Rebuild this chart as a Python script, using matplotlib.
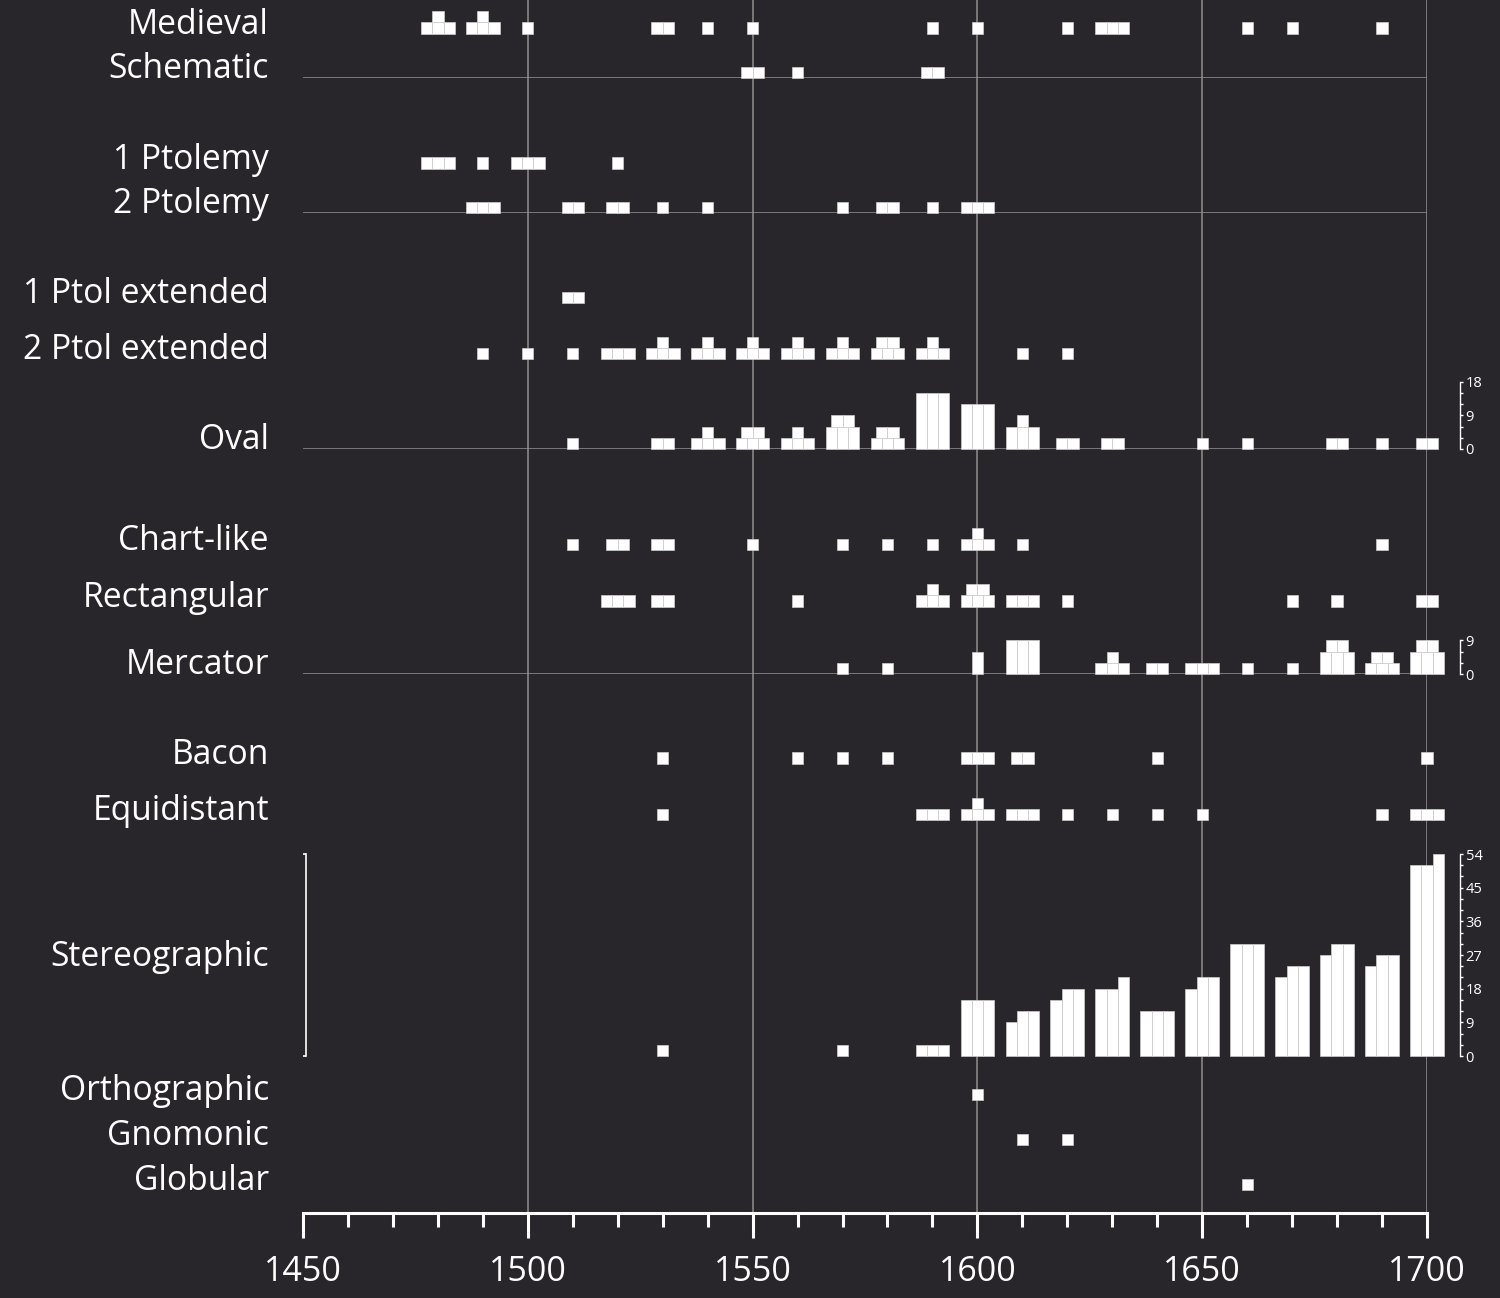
import matplotlib
matplotlib.use("Agg")
import matplotlib.pyplot as plt
from matplotlib.ticker import FixedLocator, NullFormatter

# ---------------- data (maps per decade) ----------------
categories = ["Medieval", "Schematic", "1 Ptolemy", "2 Ptolemy", "1 Ptol extended",
              "2 Ptol extended", "Oval", "Chart-like", "Rectangular", "Mercator",
              "Bacon", "Equidistant", "Stereographic", "Orthographic", "Gnomonic", "Globular"]

medieval_years = [1480, 1490, 1500, 1530, 1540, 1550, 1590, 1600, 1620, 1630, 1660, 1670, 1690]
medieval_counts = [4, 4, 1, 2, 1, 1, 1, 1, 1, 3, 1, 1, 1]
schematic_years = [1550, 1560, 1590]
schematic_counts = [2, 1, 2]
ptolemy1_years = [1480, 1490, 1500, 1520]
ptolemy1_counts = [3, 1, 3, 1]
ptolemy2_years = [1490, 1510, 1520, 1530, 1540, 1570, 1580, 1590, 1600]
ptolemy2_counts = [3, 2, 2, 1, 1, 1, 2, 1, 3]
ptolext1_years = [1510]
ptolext1_counts = [2]
ptolext2_years = [1490, 1500, 1510, 1520, 1530, 1540, 1550, 1560, 1570, 1580, 1590, 1610, 1620]
ptolext2_counts = [1, 1, 1, 3, 4, 4, 4, 4, 4, 5, 4, 1, 1]
oval_years = [1510, 1530, 1540, 1550, 1560, 1570, 1580, 1590, 1600, 1610, 1620, 1630,
              1650, 1660, 1680, 1690, 1700]
oval_counts = [1, 2, 4, 5, 4, 8, 5, 15, 12, 7, 2, 2, 1, 1, 2, 1, 2]
chartlike_years = [1510, 1520, 1530, 1550, 1570, 1580, 1590, 1600, 1610, 1690]
chartlike_counts = [1, 2, 2, 1, 1, 1, 1, 4, 1, 1]
rectangular_years = [1520, 1530, 1560, 1590, 1600, 1610, 1620, 1670, 1680, 1700]
rectangular_counts = [3, 2, 1, 4, 5, 3, 1, 1, 1, 2]
mercator_years = [1570, 1580, 1600, 1610, 1630, 1640, 1650, 1660, 1670, 1680, 1690, 1700]
mercator_counts = [1, 1, 2, 9, 4, 2, 3, 1, 1, 8, 5, 8]
bacon_years = [1530, 1560, 1570, 1580, 1600, 1610, 1640, 1700]
bacon_counts = [1, 1, 1, 1, 3, 2, 1, 1]
equidistant_years = [1530, 1590, 1600, 1610, 1620, 1630, 1640, 1650, 1690, 1700]
equidistant_counts = [1, 3, 4, 3, 1, 1, 1, 1, 1, 3]
stereo_years = [1530, 1570, 1590, 1600, 1610, 1620, 1630, 1640, 1650, 1660, 1670, 1680, 1690, 1700]
stereo_counts = [1, 1, 3, 15, 11, 17, 19, 12, 20, 30, 23, 29, 26, 52]
ortho_years = [1600]
ortho_counts = [1]
gnomonic_years = [1610, 1620]
gnomonic_counts = [1, 1]
globular_years = [1660]
globular_counts = [1]

series = [
    (medieval_years, medieval_counts), (schematic_years, schematic_counts),
    (ptolemy1_years, ptolemy1_counts), (ptolemy2_years, ptolemy2_counts),
    (ptolext1_years, ptolext1_counts), (ptolext2_years, ptolext2_counts),
    (oval_years, oval_counts), (chartlike_years, chartlike_counts),
    (rectangular_years, rectangular_counts), (mercator_years, mercator_counts),
    (bacon_years, bacon_counts), (equidistant_years, equidistant_counts),
    (stereo_years, stereo_counts), (ortho_years, ortho_counts),
    (gnomonic_years, gnomonic_counts), (globular_years, globular_counts),
]

x_ticks_major = [1450, 1500, 1550, 1600, 1650, 1700]

# ---------------- layout / style ----------------
W, H = 1500, 1298
BG = "#28252b"
GRID = "#8f8f8f"
FONT = "Open Sans"
X0, X1 = 303, 1427            # pixel span of 1450..1700
PXU = 3.74                    # pixels per count unit (one cell = 3 counts)
CW = 2.5                      # cell width in years
baselines = [33.7, 78, 168.7, 213, 303.3, 359.3, 449, 550, 606.7, 674,
             763.7, 820, 1056, 1100, 1145, 1190]
label_y = baselines[:]
label_y[12] = 966
lined_rows = {"Schematic", "2 Ptolemy", "Oval", "Mercator"}
scales = {"Oval": 18, "Mercator": 9, "Stereographic": 54}

fig = plt.figure(figsize=(W / 100, H / 100), dpi=100, facecolor=BG)


def px_axes(left, top, right, bottom):
    return fig.add_axes([left / W, 1 - bottom / H, (right - left) / W, (bottom - top) / H])


# background axes with time axis + vertical grid
AXIS_Y = 1213
bg = px_axes(X0, 0, X1, AXIS_Y)
bg.set_facecolor("none")
bg.set_xlim(1450, 1700)
bg.set_ylim(0, 1)
for s in ["top", "right", "left"]:
    bg.spines[s].set_visible(False)
bg.spines["bottom"].set_color("white")
bg.spines["bottom"].set_linewidth(2.2)
bg.set_yticks([])
bg.xaxis.set_major_locator(FixedLocator(x_ticks_major))
bg.xaxis.set_minor_locator(FixedLocator(list(range(1450, 1701, 10))))
bg.tick_params(axis="x", which="both", direction="out", colors="white", width=2.2)
bg.tick_params(axis="x", which="major", length=18, pad=12, labelsize=24.5)
bg.tick_params(axis="x", which="minor", length=10)
for lab in bg.get_xticklabels():
    lab.set_family(FONT)
for xv in x_ticks_major[1:]:
    bg.axvline(xv, color=GRID, lw=1.1, zorder=0)


def layout(n, mode):
    """return list of (offset_in_cells, bottom_cells, height_cells)"""
    if mode == "stack":
        return [(0, 0, n)]
    full, r = divmod(n, 3)
    out = []
    if mode == "cols" and n >= 3:
        extra = [0, 1 if r >= 2 else 0, 1 if r >= 1 else 0]
        for off, e in zip([-1, 0, 1], extra):
            out.append((off, 0, full + e))
        return out
    if full:
        for off in [-1, 0, 1]:
            out.append((off, 0, full))
    if r == 1:
        out.append((0, full, 1))
    elif r == 2:
        out.append((-0.5, full, 1))
        out.append((0.5, full, 1))
    return out


overrides = {("Mercator", 1600): "stack"}

for name, (years, counts), base, ly in zip(categories, series, baselines, label_y):
    ymax = scales.get(name, 18)
    ax = px_axes(X0, base - ymax * PXU, X1, base)
    ax.set_facecolor("none")
    ax.set_xlim(1450, 1700)
    ax.set_ylim(0, ymax)
    ax.set_xticks([])
    for s in ax.spines.values():
        s.set_visible(False)
    ax.set_yticks([])
    if name in lined_rows:
        ax.axhline(0, color=GRID, lw=1.1, zorder=1, xmin=0, xmax=1)
    mode_default = "cols" if name == "Stereographic" else "rows"
    xs, hs, bs = [], [], []
    for yr, n in zip(years, counts):
        mode = overrides.get((name, yr), mode_default)
        for off, b, h in layout(n, mode):
            xs.append(yr + off * CW)
            bs.append(b * 3)
            hs.append(h * 3)
    ax.bar(xs, hs, bottom=bs, width=CW, color="white", edgecolor="#cdcdcd",
           linewidth=0.5, zorder=3, clip_on=False)
    # row label
    fig.text(269 / W, 1 - ly / H, name, ha="right", va="baseline",
             color="white", fontsize=24.2, family=FONT)
    # right-hand scale
    if name in scales:
        sp = ax.spines["right"]
        sp.set_visible(True)
        sp.set_position(("axes", (1460 - X0) / (X1 - X0)))
        sp.set_bounds(0, ymax)
        sp.set_color("white")
        sp.set_linewidth(1)
        ax.yaxis.set_ticks_position("right")
        ax.yaxis.set_major_locator(FixedLocator(list(range(0, ymax + 1, 9))))
        ax.yaxis.set_minor_locator(FixedLocator(list(range(0, ymax + 1, 3))))
        ax.yaxis.set_minor_formatter(NullFormatter())
        ax.tick_params(axis="y", which="both", direction="out", length=2.5, width=1,
                       colors="white", labelsize=10.5, pad=1.5, right=True, left=False)
        for lab in ax.get_yticklabels():
            lab.set_family(FONT)
    if name == "Stereographic":
        # left bracket
        ax2 = px_axes(X0, base - ymax * PXU, X1, base)
        ax2.set_facecolor("none")
        ax2.set_ylim(0, ymax)
        ax2.set_xticks([])
        for s in ["top", "right", "bottom"]:
            ax2.spines[s].set_visible(False)
        lsp = ax2.spines["left"]
        lsp.set_position(("axes", 3 / (X1 - X0)))
        lsp.set_color("white")
        lsp.set_linewidth(1.2)
        ax2.set_yticks([0, ymax])
        ax2.set_yticklabels([])
        ax2.tick_params(axis="y", direction="out", length=2.5, width=1.2, colors="white")

fig.savefig("out.png", dpi=100, facecolor=BG)
